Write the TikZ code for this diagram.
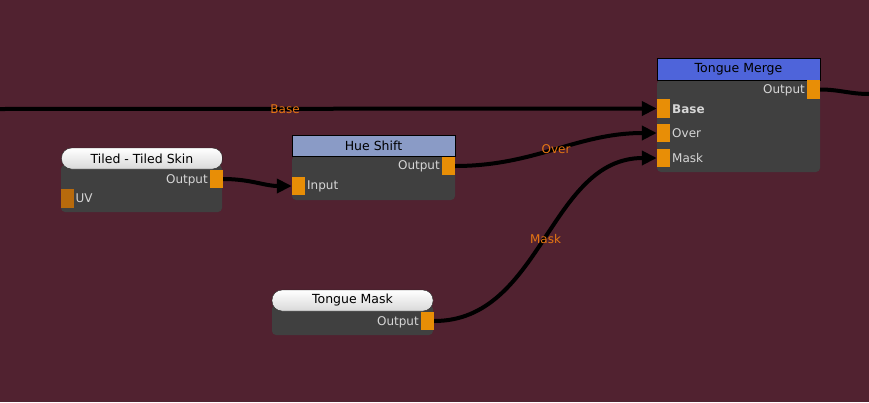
\documentclass[tikz,border=0pt]{standalone}
\usepackage{fontspec}
\setmainfont{DejaVu Sans}
\usepackage{xcolor}
\usepackage{tikz}
\usetikzlibrary{arrows.meta}

\definecolor{bgmaroon}{RGB}{81,34,48}
\definecolor{nodegrey}{RGB}{64,64,64}
\definecolor{portorange}{RGB}{232,142,6}
\definecolor{uvorange}{RGB}{184,106,12}
\definecolor{lbltext}{RGB}{214,214,214}
\definecolor{wireorange}{RGB}{230,118,18}
\definecolor{hueblue}{RGB}{138,155,198}
\definecolor{mergeblue}{RGB}{78,100,218}

\begin{document}
\begin{tikzpicture}[
  x=1pt, y=-1pt,
  body/.style={fill=nodegrey, rounded corners=4pt, inner sep=0pt},
  pill/.style={draw=black!85, rounded corners=10pt, top color=white,
               bottom color=gray!30, minimum width=161pt, minimum height=21pt,
               inner sep=0pt, font=\fontsize{12.5}{14}\selectfont},
  bar/.style={draw=black, minimum width=163pt, minimum height=22pt,
              inner sep=0pt, font=\fontsize{12.5}{14}\selectfont},
  port/.style={fill=portorange, minimum width=13pt, minimum height=18pt, inner sep=0pt},
  plbl/.style={text=lbltext, inner sep=0pt, font=\fontsize{12}{14}\selectfont},
  wire/.style={line width=4pt, -{Triangle[length=15pt,width=14pt]}},
  wlbl/.style={text=wireorange, inner sep=0pt, font=\fontsize{12}{14}\selectfont}
]
\useasboundingbox (0,0) rectangle (869,402);
\fill[bgmaroon] (0,0) rectangle (869,402);

% Tiled - Tiled Skin
\node[body, minimum width=161pt, minimum height=47pt] (tiledbody) at (141.5,188.5) {};
\node[pill] (tiledhdr) at (142,158.5) {Tiled - Tiled Skin};
\node[port] (tiledout) at (216.5,179) {};
\node[port, fill=uvorange, minimum height=19pt] (tileduv) at (67.5,198.5) {};
\node[plbl, anchor=east] (tiledoutlbl) at (208,180) {Output};
\node[plbl, anchor=west] (tileduvlbl) at (75.5,198.5) {UV};

% Hue Shift
\node[body, minimum width=163pt, minimum height=44pt] (huebody) at (373.5,178) {};
\node[bar, fill=hueblue, minimum height=21pt] (huehdr) at (373.5,145.5) {Hue Shift};
\node[port] (hueout) at (448.5,166) {};
\node[port] (huein) at (298.5,186) {};
\node[plbl, anchor=east] (hueoutlbl) at (440,166) {Output};
\node[plbl, anchor=west] (hueinlbl) at (307,186) {Input};

% Tongue Merge
\node[body, minimum width=163pt, minimum height=92pt] (mergebody) at (738.5,126) {};
\node[bar, fill=mergeblue] (mergehdr) at (738.5,69) {Tongue Merge};
\node[port, minimum height=19pt] (mergeout) at (813.5,89.5) {};
\node[port, minimum height=19pt] (base) at (663.5,108.5) {};
\node[port] (over) at (663.5,133) {};
\node[port] (mask) at (663.5,158) {};
\node[plbl, anchor=east] (mergeoutlbl) at (805,90) {Output};
\node[plbl, anchor=west, font=\fontsize{12}{14}\selectfont\bfseries] (baselbl) at (672,109) {Base};
\node[plbl, anchor=west] (overlbl) at (672,133) {Over};
\node[plbl, anchor=west] (masklbl) at (672,158) {Mask};

% Tongue Mask
\node[body, minimum width=161pt, minimum height=30pt] (maskbody) at (352.5,320) {};
\node[pill] (maskhdr) at (352.5,300.5) {Tongue Mask};
\node[port] (maskout) at (427.5,321) {};
\node[plbl, anchor=east] (maskoutlbl) at (419,322) {Output};

% wires
\coordinate (basein) at (0,109);
\coordinate (rightend) at (869,94);
\draw[wire] (basein) -- node[wlbl, pos=0.434] {Base} (base.west);
\draw[wire] (tiledout.east) to[out=0, in=180] (huein.west);
\draw[wire] (hueout.east) to[out=0, in=180] node[wlbl] {Over} (over.west);
\draw[wire] (maskout.east) to[out=0, in=180] node[wlbl] {Mask} (mask.west);
\draw[line width=4pt] (mergeout.east) to[out=0, in=180] (rightend);
\end{tikzpicture}
\end{document}
